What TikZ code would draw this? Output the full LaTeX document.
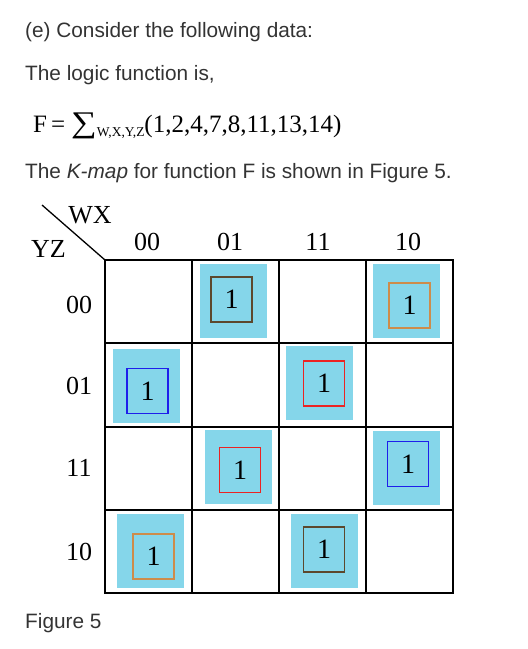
\documentclass[tikz,border=0pt]{standalone}
\usepackage{fontspec}
\setmainfont{Liberation Sans}
\newfontfamily\timesfont{Liberation Serif}

\definecolor{cellblue}{RGB}{133,214,234}
\definecolor{darkbrown}{RGB}{92,72,45}
\definecolor{lightbrown}{RGB}{205,140,75}
\definecolor{loopblue}{RGB}{30,30,235}
\definecolor{loopred}{RGB}{235,35,35}
\definecolor{textgray}{RGB}{51,51,51}

\begin{document}
\begin{tikzpicture}[x=1pt, y=-1pt,
        txt/.style={font=\fontsize{20.8}{24}\selectfont, text=textgray, anchor=base west, inner sep=0},
        lbl/.style={font=\timesfont\fontsize{26}{30}\selectfont, inner sep=0},
        onecell/.style={fill=cellblue, draw=none, minimum width=67, minimum height=74, inner sep=0},
        loopbox/.style={draw, line width=1.5pt, fill=cellblue, minimum width=41, minimum height=45, inner sep=0,
            font=\timesfont\fontsize{28}{30}\selectfont}]
        \useasboundingbox (0,0) rectangle (528,649);

        % Text
        \node[txt] (intro) at (25,37) {(e) Consider the following data:};
        \node[txt] (logic) at (25,80) {The logic function is,};
        \node[anchor=base west, inner sep=0, font=\timesfont\fontsize{25}{28}\selectfont] (func) at (33,132)
            {F\kern4pt=\kern6pt\scalebox{1.2}[1]{\fontsize{30}{32}\selectfont ∑}\raisebox{-4pt}{\fontsize{13.5}{15}\selectfont W,X,Y,Z}(1,2,4,7,8,11,13,14)};
        \node[txt] (kmap) at (25,178) {The \textit{K-map} for function F is shown in Figure 5.};
        \node[txt] (fig) at (25,628) {Figure 5};

        % Shaded cells and loops
        \foreach \m/\sx/\sy/\ix/\iy/\col in {4/233.5/301/231.5/299.5/darkbrown, 8/406.5/301/409.5/305.5/lightbrown,
                1/146.5/385.5/147.5/391/loopblue, 13/319.7/383.3/324/383.5/loopred,
                7/238/467/240/470/loopred, 11/406.5/468/408/464/loopblue,
                2/150/551/153.5/556.5/lightbrown, 14/324/551/324/549.5/darkbrown} {
            \node[onecell] (s\m) at (\sx,\sy) {};
            \node[loopbox, draw=\col] (m\m) at (\ix,\iy) {1};
        }

        % K-map grid
        \coordinate (corner) at (105,260);
        \coordinate (diag) at (42,205);
        \foreach \i in {0,...,4} {
            \draw[line width=2pt] (105+87*\i,260) -- (105+87*\i,593);
            \draw[line width=2pt] (104,260+83.25*\i) -- (454,260+83.25*\i);
        }
        \draw[line width=1.3pt] (diag) -- (corner);

        % Labels
        \node[lbl, anchor=base] (wx) at (90,223) {WX};
        \node[lbl, anchor=base] (yz) at (48.5,257) {YZ};
        \foreach \c/\x in {00/147, 01/230, 11/318, 10/408}
            \node[lbl, anchor=base] (c\c) at (\x,250) {\c};
        \foreach \r/\y in {00/305, 01/386, 11/467.5, 10/552}
            \node[lbl] (r\r) at (79,\y) {\r};
    \end{tikzpicture}
\end{document}
